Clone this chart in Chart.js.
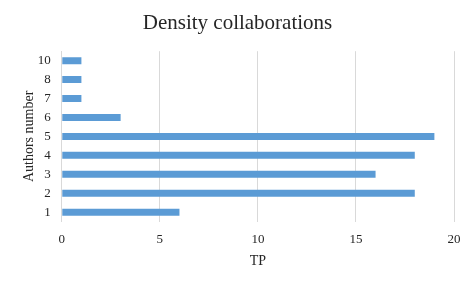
<!DOCTYPE html>
<html lang="en">
<head>
  <meta charset="UTF-8">
  <title>Density collaborations</title>
  <script src="https://cdn.jsdelivr.net/npm/chart.js"></script>
  <style>
    html, body { margin: 0; padding: 0; background: #fff; }
    #wrap { width: 474px; height: 284px; position: relative; }
  </style>
</head>
<body>
  <div id="wrap"><canvas id="barChart"></canvas></div>

  <script>
    // authors per paper and number of papers (TP)
    const authors = ['1', '2', '3', '4', '5', '6', '7', '8', '10'];
    const tp = [6, 18, 16, 18, 19, 3, 1, 1, 1];
    const xTicks = [0, 5, 10, 15, 20];

    const serif = "'Liberation Serif', 'DejaVu Serif', serif";
    const textColor = '#262626';

    const ctx = document.getElementById('barChart').getContext('2d');
    new Chart(ctx, {
      type: 'bar',
      data: {
        labels: authors,
        datasets: [{
          label: 'TP',
          data: tp,
          backgroundColor: '#5b9bd5',
          barPercentage: 0.37,
          categoryPercentage: 1
        }]
      },
      options: {
        indexAxis: 'y',
        responsive: true,
        maintainAspectRatio: false,
        animation: false,
        layout: { padding: { left: 21, right: 20, top: 0, bottom: 14 } },
        plugins: {
          legend: { display: false },
          tooltip: { enabled: false },
          title: {
            display: true,
            text: 'Density collaborations',
            color: textColor,
            font: { family: serif, size: 21, weight: 'normal' },
            padding: { top: 11, bottom: 15 }
          }
        },
        scales: {
          x: {
            min: 0,
            max: 20,
            afterBuildTicks: axis => { axis.ticks = xTicks.map(v => ({ value: v })); },
            grid: { color: '#d9d9d9', drawTicks: false },
            border: { display: false },
            ticks: {
              color: textColor,
              padding: 10,
              font: { family: serif, size: 13 }
            },
            title: {
              display: true,
              text: 'TP',
              color: textColor,
              font: { family: serif, size: 14 },
              padding: { top: -4, bottom: 0 }
            }
          },
          y: {
            reverse: true,
            grid: { display: false, drawTicks: false },
            border: { display: true, color: '#d9d9d9' },
            ticks: {
              color: textColor,
              padding: 11,
              font: { family: serif, size: 13 }
            },
            title: {
              display: true,
              text: 'Authors number',
              color: textColor,
              font: { family: serif, size: 14 },
              padding: { top: 0, bottom: -11 }
            }
          }
        }
      }
    });
  </script>
</body>
</html>
